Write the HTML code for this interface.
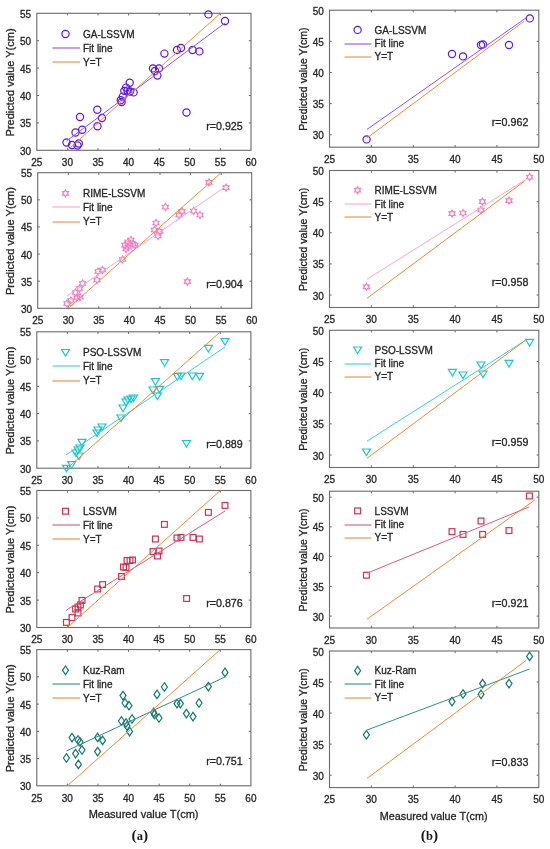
<!DOCTYPE html>
<html><head><meta charset="utf-8"><title>Predicted vs measured</title>
<style>
html,body{margin:0;padding:0;background:#fff;}
svg{display:block;}
.tk{font-family:'Liberation Sans', Arial, Helvetica, sans-serif;font-size:10px;fill:#262626;stroke:#262626;stroke-width:0.3px;}
.lg{font-family:'Liberation Sans', Arial, Helvetica, sans-serif;font-size:10px;fill:#262626;stroke:#262626;stroke-width:0.3px;}
.rt{font-family:'Liberation Sans', Arial, Helvetica, sans-serif;font-size:10.7px;fill:#262626;stroke:#262626;stroke-width:0.3px;}
.lb{font-family:'Liberation Sans', Arial, Helvetica, sans-serif;font-size:11px;fill:#262626;stroke:#262626;stroke-width:0.3px;}
.cap{font-family:'Liberation Serif','Times New Roman',serif;font-weight:bold;font-size:12.5px;fill:#1a1a1a;}
</style></head>
<body>
<svg width="550" height="849" viewBox="0 0 550 849">
<rect width="550" height="849" fill="#fff"/>
<clipPath id="cL0"><rect x="36.8" y="13.3" width="214.20" height="137.00"/></clipPath>
<rect x="36.8" y="13.3" width="214.20" height="137.00" fill="none" stroke="#6b6b6b" stroke-width="1.1"/>
<path d="M67.40 150.3v-2.2M67.40 13.3v2.2M98.00 150.3v-2.2M98.00 13.3v2.2M128.60 150.3v-2.2M128.60 13.3v2.2M159.20 150.3v-2.2M159.20 13.3v2.2M189.80 150.3v-2.2M189.80 13.3v2.2M220.40 150.3v-2.2M220.40 13.3v2.2M36.8 122.90h2.2M251.0 122.90h-2.2M36.8 95.50h2.2M251.0 95.50h-2.2M36.8 68.10h2.2M251.0 68.10h-2.2M36.8 40.70h2.2M251.0 40.70h-2.2" stroke="#6b6b6b" stroke-width="1" fill="none"/>
<circle cx="66.50" cy="142.50" r="3.60" fill="none" stroke="#5c16e6" stroke-width="1.2"/>
<circle cx="72.00" cy="145.00" r="3.60" fill="none" stroke="#5c16e6" stroke-width="1.2"/>
<circle cx="77.50" cy="145.50" r="3.60" fill="none" stroke="#5c16e6" stroke-width="1.2"/>
<circle cx="78.80" cy="143.50" r="3.60" fill="none" stroke="#5c16e6" stroke-width="1.2"/>
<circle cx="75.50" cy="132.50" r="3.60" fill="none" stroke="#5c16e6" stroke-width="1.2"/>
<circle cx="82.20" cy="129.70" r="3.60" fill="none" stroke="#5c16e6" stroke-width="1.2"/>
<circle cx="80.00" cy="117.00" r="3.60" fill="none" stroke="#5c16e6" stroke-width="1.2"/>
<circle cx="97.30" cy="109.70" r="3.60" fill="none" stroke="#5c16e6" stroke-width="1.2"/>
<circle cx="97.50" cy="126.20" r="3.60" fill="none" stroke="#5c16e6" stroke-width="1.2"/>
<circle cx="102.00" cy="118.00" r="3.60" fill="none" stroke="#5c16e6" stroke-width="1.2"/>
<circle cx="120.70" cy="100.20" r="3.60" fill="none" stroke="#5c16e6" stroke-width="1.2"/>
<circle cx="121.60" cy="102.00" r="3.60" fill="none" stroke="#5c16e6" stroke-width="1.2"/>
<circle cx="122.80" cy="96.60" r="3.60" fill="none" stroke="#5c16e6" stroke-width="1.2"/>
<circle cx="124.30" cy="90.90" r="3.60" fill="none" stroke="#5c16e6" stroke-width="1.2"/>
<circle cx="126.10" cy="87.60" r="3.60" fill="none" stroke="#5c16e6" stroke-width="1.2"/>
<circle cx="127.60" cy="90.60" r="3.60" fill="none" stroke="#5c16e6" stroke-width="1.2"/>
<circle cx="129.70" cy="82.80" r="3.60" fill="none" stroke="#5c16e6" stroke-width="1.2"/>
<circle cx="130.00" cy="91.50" r="3.60" fill="none" stroke="#5c16e6" stroke-width="1.2"/>
<circle cx="133.60" cy="92.40" r="3.60" fill="none" stroke="#5c16e6" stroke-width="1.2"/>
<circle cx="153.00" cy="68.40" r="3.60" fill="none" stroke="#5c16e6" stroke-width="1.2"/>
<circle cx="159.00" cy="68.40" r="3.60" fill="none" stroke="#5c16e6" stroke-width="1.2"/>
<circle cx="155.00" cy="71.00" r="3.60" fill="none" stroke="#5c16e6" stroke-width="1.2"/>
<circle cx="157.40" cy="75.60" r="3.60" fill="none" stroke="#5c16e6" stroke-width="1.2"/>
<circle cx="164.40" cy="53.60" r="3.60" fill="none" stroke="#5c16e6" stroke-width="1.2"/>
<circle cx="177.00" cy="50.00" r="3.60" fill="none" stroke="#5c16e6" stroke-width="1.2"/>
<circle cx="181.00" cy="48.00" r="3.60" fill="none" stroke="#5c16e6" stroke-width="1.2"/>
<circle cx="192.60" cy="50.00" r="3.60" fill="none" stroke="#5c16e6" stroke-width="1.2"/>
<circle cx="199.40" cy="51.40" r="3.60" fill="none" stroke="#5c16e6" stroke-width="1.2"/>
<circle cx="208.40" cy="14.40" r="3.60" fill="none" stroke="#5c16e6" stroke-width="1.2"/>
<circle cx="225.00" cy="21.00" r="3.60" fill="none" stroke="#5c16e6" stroke-width="1.2"/>
<circle cx="186.50" cy="112.50" r="3.60" fill="none" stroke="#5c16e6" stroke-width="1.2"/>
<g clip-path="url(#cL0)">
<line x1="66.5" y1="141.0" x2="225" y2="23.0" stroke="#8a55f2" stroke-width="1"/>
<line x1="66.42" y1="151.18" x2="225.42" y2="8.81" stroke="#ee8a3c" stroke-width="1"/>
</g>
<text x="36.80" y="166.10" text-anchor="middle" class="tk">25</text>
<text x="67.40" y="166.10" text-anchor="middle" class="tk">30</text>
<text x="98.00" y="166.10" text-anchor="middle" class="tk">35</text>
<text x="128.60" y="166.10" text-anchor="middle" class="tk">40</text>
<text x="159.20" y="166.10" text-anchor="middle" class="tk">45</text>
<text x="189.80" y="166.10" text-anchor="middle" class="tk">50</text>
<text x="220.40" y="166.10" text-anchor="middle" class="tk">55</text>
<text x="251.00" y="166.10" text-anchor="middle" class="tk">60</text>
<text x="31.20" y="154.80" text-anchor="end" class="tk">30</text>
<text x="31.20" y="127.40" text-anchor="end" class="tk">35</text>
<text x="31.20" y="100.00" text-anchor="end" class="tk">40</text>
<text x="31.20" y="72.60" text-anchor="end" class="tk">45</text>
<text x="31.20" y="45.20" text-anchor="end" class="tk">50</text>
<text x="31.20" y="17.80" text-anchor="end" class="tk">55</text>
<text transform="translate(13.9,82.40) rotate(-90)" text-anchor="middle" class="lb">Predicted value Y(cm)</text>
<circle cx="65.50" cy="34.00" r="3.60" fill="none" stroke="#5c16e6" stroke-width="1.2"/>
<text x="83" y="37.60" class="lg">GA-LSSVM</text>
<line x1="52.4" y1="48" x2="80" y2="48" stroke="#8a55f2" stroke-width="1.1"/>
<text x="83" y="51.60" class="lg">Fit line</text>
<line x1="52.4" y1="62" x2="80" y2="62" stroke="#ee8a3c" stroke-width="1.1"/>
<text x="83" y="65.70" class="lg">Y=T</text>
<text x="206.2" y="129.60" class="rt">r=0.925</text>
<clipPath id="cR0"><rect x="329.5" y="10.2" width="209.30" height="137.00"/></clipPath>
<rect x="329.5" y="10.2" width="209.30" height="137.00" fill="none" stroke="#6b6b6b" stroke-width="1.1"/>
<path d="M371.36 147.2v-2.2M371.36 10.2v2.2M413.22 147.2v-2.2M413.22 10.2v2.2M455.08 147.2v-2.2M455.08 10.2v2.2M496.94 147.2v-2.2M496.94 10.2v2.2M329.5 134.75h2.2M538.8 134.75h-2.2M329.5 103.61h2.2M538.8 103.61h-2.2M329.5 72.47h2.2M538.8 72.47h-2.2M329.5 41.34h2.2M538.8 41.34h-2.2" stroke="#6b6b6b" stroke-width="1" fill="none"/>
<circle cx="366.60" cy="139.40" r="3.60" fill="none" stroke="#5c16e6" stroke-width="1.2"/>
<circle cx="452.00" cy="54.00" r="3.60" fill="none" stroke="#5c16e6" stroke-width="1.2"/>
<circle cx="463.00" cy="56.40" r="3.60" fill="none" stroke="#5c16e6" stroke-width="1.2"/>
<circle cx="481.00" cy="45.00" r="3.60" fill="none" stroke="#5c16e6" stroke-width="1.2"/>
<circle cx="483.00" cy="44.40" r="3.60" fill="none" stroke="#5c16e6" stroke-width="1.2"/>
<circle cx="509.00" cy="45.00" r="3.60" fill="none" stroke="#5c16e6" stroke-width="1.2"/>
<circle cx="529.80" cy="18.40" r="3.60" fill="none" stroke="#5c16e6" stroke-width="1.2"/>
<g clip-path="url(#cR0)">
<line x1="367" y1="129.4" x2="526" y2="17.9" stroke="#8a55f2" stroke-width="1"/>
<line x1="367.01" y1="137.98" x2="524.23" y2="21.04" stroke="#ee8a3c" stroke-width="1"/>
</g>
<text x="329.50" y="163.00" text-anchor="middle" class="tk">25</text>
<text x="371.36" y="163.00" text-anchor="middle" class="tk">30</text>
<text x="413.22" y="163.00" text-anchor="middle" class="tk">35</text>
<text x="455.08" y="163.00" text-anchor="middle" class="tk">40</text>
<text x="496.94" y="163.00" text-anchor="middle" class="tk">45</text>
<text x="538.80" y="163.00" text-anchor="middle" class="tk">50</text>
<text x="323.90" y="139.25" text-anchor="end" class="tk">30</text>
<text x="323.90" y="108.11" text-anchor="end" class="tk">35</text>
<text x="323.90" y="76.97" text-anchor="end" class="tk">40</text>
<text x="323.90" y="45.84" text-anchor="end" class="tk">45</text>
<text x="323.90" y="14.70" text-anchor="end" class="tk">50</text>
<text transform="translate(306.8,79.10) rotate(-90)" text-anchor="middle" class="lb" style="font-size:10.5px">Predicted value Y(cm)</text>
<circle cx="357.60" cy="29.90" r="3.60" fill="none" stroke="#5c16e6" stroke-width="1.2"/>
<text x="374.6" y="33.50" class="lg">GA-LSSVM</text>
<line x1="344.6" y1="44" x2="371.4" y2="44" stroke="#8a55f2" stroke-width="1.1"/>
<text x="374.6" y="47.30" class="lg">Fit line</text>
<line x1="344.6" y1="57" x2="371.4" y2="57" stroke="#ee8a3c" stroke-width="1.1"/>
<text x="374.6" y="60.30" class="lg">Y=T</text>
<text x="491.8" y="125.70" class="rt">r=0.962</text>
<clipPath id="cL1"><rect x="37.7" y="172.7" width="214.00" height="135.60"/></clipPath>
<rect x="37.7" y="172.7" width="214.00" height="135.60" fill="none" stroke="#6b6b6b" stroke-width="1.1"/>
<path d="M68.27 308.3v-2.2M68.27 172.7v2.2M98.84 308.3v-2.2M98.84 172.7v2.2M129.41 308.3v-2.2M129.41 172.7v2.2M159.99 308.3v-2.2M159.99 172.7v2.2M190.56 308.3v-2.2M190.56 172.7v2.2M221.13 308.3v-2.2M221.13 172.7v2.2M37.7 281.18h2.2M251.7 281.18h-2.2M37.7 254.06h2.2M251.7 254.06h-2.2M37.7 226.94h2.2M251.7 226.94h-2.2M37.7 199.82h2.2M251.7 199.82h-2.2" stroke="#6b6b6b" stroke-width="1" fill="none"/>
<polygon points="67.00,300.00 68.01,301.75 70.03,301.75 69.02,303.50 70.03,305.25 68.01,305.25 67.00,307.00 65.99,305.25 63.97,305.25 64.98,303.50 63.97,301.75 65.99,301.75" fill="none" stroke="#f27fc0" stroke-width="1.2"/>
<polygon points="71.00,297.00 72.01,298.75 74.03,298.75 73.02,300.50 74.03,302.25 72.01,302.25 71.00,304.00 69.99,302.25 67.97,302.25 68.98,300.50 67.97,298.75 69.99,298.75" fill="none" stroke="#f27fc0" stroke-width="1.2"/>
<polygon points="77.00,294.50 78.01,296.25 80.03,296.25 79.02,298.00 80.03,299.75 78.01,299.75 77.00,301.50 75.99,299.75 73.97,299.75 74.98,298.00 73.97,296.25 75.99,296.25" fill="none" stroke="#f27fc0" stroke-width="1.2"/>
<polygon points="75.50,289.00 76.51,290.75 78.53,290.75 77.52,292.50 78.53,294.25 76.51,294.25 75.50,296.00 74.49,294.25 72.47,294.25 73.48,292.50 72.47,290.75 74.49,290.75" fill="none" stroke="#f27fc0" stroke-width="1.2"/>
<polygon points="79.50,285.00 80.51,286.75 82.53,286.75 81.52,288.50 82.53,290.25 80.51,290.25 79.50,292.00 78.49,290.25 76.47,290.25 77.48,288.50 76.47,286.75 78.49,286.75" fill="none" stroke="#f27fc0" stroke-width="1.2"/>
<polygon points="82.50,280.00 83.51,281.75 85.53,281.75 84.52,283.50 85.53,285.25 83.51,285.25 82.50,287.00 81.49,285.25 79.47,285.25 80.48,283.50 79.47,281.75 81.49,281.75" fill="none" stroke="#f27fc0" stroke-width="1.2"/>
<polygon points="80.00,293.50 81.01,295.25 83.03,295.25 82.02,297.00 83.03,298.75 81.01,298.75 80.00,300.50 78.99,298.75 76.97,298.75 77.98,297.00 76.97,295.25 78.99,295.25" fill="none" stroke="#f27fc0" stroke-width="1.2"/>
<polygon points="97.00,276.50 98.01,278.25 100.03,278.25 99.02,280.00 100.03,281.75 98.01,281.75 97.00,283.50 95.99,281.75 93.97,281.75 94.98,280.00 93.97,278.25 95.99,278.25" fill="none" stroke="#f27fc0" stroke-width="1.2"/>
<polygon points="98.00,268.00 99.01,269.75 101.03,269.75 100.02,271.50 101.03,273.25 99.01,273.25 98.00,275.00 96.99,273.25 94.97,273.25 95.98,271.50 94.97,269.75 96.99,269.75" fill="none" stroke="#f27fc0" stroke-width="1.2"/>
<polygon points="102.50,266.50 103.51,268.25 105.53,268.25 104.52,270.00 105.53,271.75 103.51,271.75 102.50,273.50 101.49,271.75 99.47,271.75 100.48,270.00 99.47,268.25 101.49,268.25" fill="none" stroke="#f27fc0" stroke-width="1.2"/>
<polygon points="122.50,256.00 123.51,257.75 125.53,257.75 124.52,259.50 125.53,261.25 123.51,261.25 122.50,263.00 121.49,261.25 119.47,261.25 120.48,259.50 119.47,257.75 121.49,257.75" fill="none" stroke="#f27fc0" stroke-width="1.2"/>
<polygon points="125.00,241.50 126.01,243.25 128.03,243.25 127.02,245.00 128.03,246.75 126.01,246.75 125.00,248.50 123.99,246.75 121.97,246.75 122.98,245.00 121.97,243.25 123.99,243.25" fill="none" stroke="#f27fc0" stroke-width="1.2"/>
<polygon points="128.00,238.50 129.01,240.25 131.03,240.25 130.02,242.00 131.03,243.75 129.01,243.75 128.00,245.50 126.99,243.75 124.97,243.75 125.98,242.00 124.97,240.25 126.99,240.25" fill="none" stroke="#f27fc0" stroke-width="1.2"/>
<polygon points="131.00,236.50 132.01,238.25 134.03,238.25 133.02,240.00 134.03,241.75 132.01,241.75 131.00,243.50 129.99,241.75 127.97,241.75 128.98,240.00 127.97,238.25 129.99,238.25" fill="none" stroke="#f27fc0" stroke-width="1.2"/>
<polygon points="133.00,240.50 134.01,242.25 136.03,242.25 135.02,244.00 136.03,245.75 134.01,245.75 133.00,247.50 131.99,245.75 129.97,245.75 130.98,244.00 129.97,242.25 131.99,242.25" fill="none" stroke="#f27fc0" stroke-width="1.2"/>
<polygon points="128.00,243.50 129.01,245.25 131.03,245.25 130.02,247.00 131.03,248.75 129.01,248.75 128.00,250.50 126.99,248.75 124.97,248.75 125.98,247.00 124.97,245.25 126.99,245.25" fill="none" stroke="#f27fc0" stroke-width="1.2"/>
<polygon points="135.00,241.50 136.01,243.25 138.03,243.25 137.02,245.00 138.03,246.75 136.01,246.75 135.00,248.50 133.99,246.75 131.97,246.75 132.98,245.00 131.97,243.25 133.99,243.25" fill="none" stroke="#f27fc0" stroke-width="1.2"/>
<polygon points="126.00,245.50 127.01,247.25 129.03,247.25 128.02,249.00 129.03,250.75 127.01,250.75 126.00,252.50 124.99,250.75 122.97,250.75 123.98,249.00 122.97,247.25 124.99,247.25" fill="none" stroke="#f27fc0" stroke-width="1.2"/>
<polygon points="154.40,226.50 155.41,228.25 157.43,228.25 156.42,230.00 157.43,231.75 155.41,231.75 154.40,233.50 153.39,231.75 151.37,231.75 152.38,230.00 151.37,228.25 153.39,228.25" fill="none" stroke="#f27fc0" stroke-width="1.2"/>
<polygon points="159.60,227.90 160.61,229.65 162.63,229.65 161.62,231.40 162.63,233.15 160.61,233.15 159.60,234.90 158.59,233.15 156.57,233.15 157.58,231.40 156.57,229.65 158.59,229.65" fill="none" stroke="#f27fc0" stroke-width="1.2"/>
<polygon points="158.00,232.50 159.01,234.25 161.03,234.25 160.02,236.00 161.03,237.75 159.01,237.75 158.00,239.50 156.99,237.75 154.97,237.75 155.98,236.00 154.97,234.25 156.99,234.25" fill="none" stroke="#f27fc0" stroke-width="1.2"/>
<polygon points="156.00,219.50 157.01,221.25 159.03,221.25 158.02,223.00 159.03,224.75 157.01,224.75 156.00,226.50 154.99,224.75 152.97,224.75 153.98,223.00 152.97,221.25 154.99,221.25" fill="none" stroke="#f27fc0" stroke-width="1.2"/>
<polygon points="165.40,203.50 166.41,205.25 168.43,205.25 167.42,207.00 168.43,208.75 166.41,208.75 165.40,210.50 164.39,208.75 162.37,208.75 163.38,207.00 162.37,205.25 164.39,205.25" fill="none" stroke="#f27fc0" stroke-width="1.2"/>
<polygon points="179.00,211.50 180.01,213.25 182.03,213.25 181.02,215.00 182.03,216.75 180.01,216.75 179.00,218.50 177.99,216.75 175.97,216.75 176.98,215.00 175.97,213.25 177.99,213.25" fill="none" stroke="#f27fc0" stroke-width="1.2"/>
<polygon points="182.00,207.90 183.01,209.65 185.03,209.65 184.02,211.40 185.03,213.15 183.01,213.15 182.00,214.90 180.99,213.15 178.97,213.15 179.98,211.40 178.97,209.65 180.99,209.65" fill="none" stroke="#f27fc0" stroke-width="1.2"/>
<polygon points="193.60,207.50 194.61,209.25 196.63,209.25 195.62,211.00 196.63,212.75 194.61,212.75 193.60,214.50 192.59,212.75 190.57,212.75 191.58,211.00 190.57,209.25 192.59,209.25" fill="none" stroke="#f27fc0" stroke-width="1.2"/>
<polygon points="200.00,211.50 201.01,213.25 203.03,213.25 202.02,215.00 203.03,216.75 201.01,216.75 200.00,218.50 198.99,216.75 196.97,216.75 197.98,215.00 196.97,213.25 198.99,213.25" fill="none" stroke="#f27fc0" stroke-width="1.2"/>
<polygon points="209.00,178.90 210.01,180.65 212.03,180.65 211.02,182.40 212.03,184.15 210.01,184.15 209.00,185.90 207.99,184.15 205.97,184.15 206.98,182.40 205.97,180.65 207.99,180.65" fill="none" stroke="#f27fc0" stroke-width="1.2"/>
<polygon points="226.00,184.10 227.01,185.85 229.03,185.85 228.02,187.60 229.03,189.35 227.01,189.35 226.00,191.10 224.99,189.35 222.97,189.35 223.98,187.60 222.97,185.85 224.99,185.85" fill="none" stroke="#f27fc0" stroke-width="1.2"/>
<polygon points="187.40,278.10 188.41,279.85 190.43,279.85 189.42,281.60 190.43,283.35 188.41,283.35 187.40,285.10 186.39,283.35 184.37,283.35 185.38,281.60 184.37,279.85 186.39,279.85" fill="none" stroke="#f27fc0" stroke-width="1.2"/>
<g clip-path="url(#cL1)">
<line x1="67" y1="296" x2="224" y2="187.6" stroke="#f6a6d2" stroke-width="1"/>
<line x1="67.29" y1="309.17" x2="226.14" y2="168.25" stroke="#ee8a3c" stroke-width="1"/>
</g>
<text x="37.70" y="324.10" text-anchor="middle" class="tk">25</text>
<text x="68.27" y="324.10" text-anchor="middle" class="tk">30</text>
<text x="98.84" y="324.10" text-anchor="middle" class="tk">35</text>
<text x="129.41" y="324.10" text-anchor="middle" class="tk">40</text>
<text x="159.99" y="324.10" text-anchor="middle" class="tk">45</text>
<text x="190.56" y="324.10" text-anchor="middle" class="tk">50</text>
<text x="221.13" y="324.10" text-anchor="middle" class="tk">55</text>
<text x="251.70" y="324.10" text-anchor="middle" class="tk">60</text>
<text x="32.10" y="312.80" text-anchor="end" class="tk">30</text>
<text x="32.10" y="285.68" text-anchor="end" class="tk">35</text>
<text x="32.10" y="258.56" text-anchor="end" class="tk">40</text>
<text x="32.10" y="231.44" text-anchor="end" class="tk">45</text>
<text x="32.10" y="204.32" text-anchor="end" class="tk">50</text>
<text x="32.10" y="177.20" text-anchor="end" class="tk">55</text>
<text transform="translate(13.9,241.10) rotate(-90)" text-anchor="middle" class="lb">Predicted value Y(cm)</text>
<polygon points="65.50,189.90 66.51,191.65 68.53,191.65 67.52,193.40 68.53,195.15 66.51,195.15 65.50,196.90 64.49,195.15 62.47,195.15 63.48,193.40 62.47,191.65 64.49,191.65" fill="none" stroke="#f27fc0" stroke-width="1.2"/>
<text x="83" y="197.00" class="lg">RIME-LSSVM</text>
<line x1="52.4" y1="207" x2="80" y2="207" stroke="#f6a6d2" stroke-width="1.1"/>
<text x="83" y="211.00" class="lg">Fit line</text>
<line x1="52.4" y1="222" x2="80" y2="222" stroke="#ee8a3c" stroke-width="1.1"/>
<text x="83" y="225.10" class="lg">Y=T</text>
<text x="206.2" y="287.60" class="rt">r=0.904</text>
<clipPath id="cR1"><rect x="329.5" y="170.5" width="209.30" height="137.00"/></clipPath>
<rect x="329.5" y="170.5" width="209.30" height="137.00" fill="none" stroke="#6b6b6b" stroke-width="1.1"/>
<path d="M371.36 307.5v-2.2M371.36 170.5v2.2M413.22 307.5v-2.2M413.22 170.5v2.2M455.08 307.5v-2.2M455.08 170.5v2.2M496.94 307.5v-2.2M496.94 170.5v2.2M329.5 295.05h2.2M538.8 295.05h-2.2M329.5 263.91h2.2M538.8 263.91h-2.2M329.5 232.77h2.2M538.8 232.77h-2.2M329.5 201.64h2.2M538.8 201.64h-2.2" stroke="#6b6b6b" stroke-width="1" fill="none"/>
<polygon points="366.40,283.30 367.41,285.05 369.43,285.05 368.42,286.80 369.43,288.55 367.41,288.55 366.40,290.30 365.39,288.55 363.37,288.55 364.38,286.80 363.37,285.05 365.39,285.05" fill="none" stroke="#f27fc0" stroke-width="1.2"/>
<polygon points="452.00,210.10 453.01,211.85 455.03,211.85 454.02,213.60 455.03,215.35 453.01,215.35 452.00,217.10 450.99,215.35 448.97,215.35 449.98,213.60 448.97,211.85 450.99,211.85" fill="none" stroke="#f27fc0" stroke-width="1.2"/>
<polygon points="463.00,209.50 464.01,211.25 466.03,211.25 465.02,213.00 466.03,214.75 464.01,214.75 463.00,216.50 461.99,214.75 459.97,214.75 460.98,213.00 459.97,211.25 461.99,211.25" fill="none" stroke="#f27fc0" stroke-width="1.2"/>
<polygon points="481.00,206.50 482.01,208.25 484.03,208.25 483.02,210.00 484.03,211.75 482.01,211.75 481.00,213.50 479.99,211.75 477.97,211.75 478.98,210.00 477.97,208.25 479.99,208.25" fill="none" stroke="#f27fc0" stroke-width="1.2"/>
<polygon points="482.40,198.10 483.41,199.85 485.43,199.85 484.42,201.60 485.43,203.35 483.41,203.35 482.40,205.10 481.39,203.35 479.37,203.35 480.38,201.60 479.37,199.85 481.39,199.85" fill="none" stroke="#f27fc0" stroke-width="1.2"/>
<polygon points="509.00,197.10 510.01,198.85 512.03,198.85 511.02,200.60 512.03,202.35 510.01,202.35 509.00,204.10 507.99,202.35 505.97,202.35 506.98,200.60 505.97,198.85 507.99,198.85" fill="none" stroke="#f27fc0" stroke-width="1.2"/>
<polygon points="529.60,173.50 530.61,175.25 532.63,175.25 531.62,177.00 532.63,178.75 530.61,178.75 529.60,180.50 528.59,178.75 526.57,178.75 527.58,177.00 526.57,175.25 528.59,175.25" fill="none" stroke="#f27fc0" stroke-width="1.2"/>
<g clip-path="url(#cR1)">
<line x1="367" y1="279.2" x2="525" y2="180" stroke="#f6a6d2" stroke-width="1"/>
<line x1="367.01" y1="298.28" x2="524.23" y2="181.34" stroke="#ee8a3c" stroke-width="1"/>
</g>
<text x="329.50" y="323.30" text-anchor="middle" class="tk">25</text>
<text x="371.36" y="323.30" text-anchor="middle" class="tk">30</text>
<text x="413.22" y="323.30" text-anchor="middle" class="tk">35</text>
<text x="455.08" y="323.30" text-anchor="middle" class="tk">40</text>
<text x="496.94" y="323.30" text-anchor="middle" class="tk">45</text>
<text x="538.80" y="323.30" text-anchor="middle" class="tk">50</text>
<text x="323.90" y="299.55" text-anchor="end" class="tk">30</text>
<text x="323.90" y="268.41" text-anchor="end" class="tk">35</text>
<text x="323.90" y="237.27" text-anchor="end" class="tk">40</text>
<text x="323.90" y="206.14" text-anchor="end" class="tk">45</text>
<text x="323.90" y="175.00" text-anchor="end" class="tk">50</text>
<text transform="translate(306.8,239.40) rotate(-90)" text-anchor="middle" class="lb" style="font-size:10.5px">Predicted value Y(cm)</text>
<polygon points="357.60,186.70 358.61,188.45 360.63,188.45 359.62,190.20 360.63,191.95 358.61,191.95 357.60,193.70 356.59,191.95 354.57,191.95 355.58,190.20 354.57,188.45 356.59,188.45" fill="none" stroke="#f27fc0" stroke-width="1.2"/>
<text x="374.6" y="193.80" class="lg">RIME-LSSVM</text>
<line x1="344.6" y1="204" x2="371.4" y2="204" stroke="#f6a6d2" stroke-width="1.1"/>
<text x="374.6" y="207.60" class="lg">Fit line</text>
<line x1="344.6" y1="217" x2="371.4" y2="217" stroke="#ee8a3c" stroke-width="1.1"/>
<text x="374.6" y="220.60" class="lg">Y=T</text>
<text x="491.8" y="286.00" class="rt">r=0.958</text>
<clipPath id="cL2"><rect x="36.8" y="331.8" width="214.10" height="136.40"/></clipPath>
<rect x="36.8" y="331.8" width="214.10" height="136.40" fill="none" stroke="#6b6b6b" stroke-width="1.1"/>
<path d="M67.39 468.2v-2.2M67.39 331.8v2.2M97.97 468.2v-2.2M97.97 331.8v2.2M128.56 468.2v-2.2M128.56 331.8v2.2M159.14 468.2v-2.2M159.14 331.8v2.2M189.73 468.2v-2.2M189.73 331.8v2.2M220.31 468.2v-2.2M220.31 331.8v2.2M36.8 440.92h2.2M250.9 440.92h-2.2M36.8 413.64h2.2M250.9 413.64h-2.2M36.8 386.36h2.2M250.9 386.36h-2.2M36.8 359.08h2.2M250.9 359.08h-2.2" stroke="#6b6b6b" stroke-width="1" fill="none"/>
<path d="M62.50 465.30L70.50 465.30L66.50 471.90Z" fill="none" stroke="#1ec8c8" stroke-width="1.2" stroke-linejoin="miter"/>
<path d="M67.70 461.60L75.70 461.60L71.70 468.20Z" fill="none" stroke="#1ec8c8" stroke-width="1.2" stroke-linejoin="miter"/>
<path d="M72.00 450.00L80.00 450.00L76.00 456.60Z" fill="none" stroke="#1ec8c8" stroke-width="1.2" stroke-linejoin="miter"/>
<path d="M74.00 447.00L82.00 447.00L78.00 453.60Z" fill="none" stroke="#1ec8c8" stroke-width="1.2" stroke-linejoin="miter"/>
<path d="M76.00 445.00L84.00 445.00L80.00 451.60Z" fill="none" stroke="#1ec8c8" stroke-width="1.2" stroke-linejoin="miter"/>
<path d="M78.00 439.40L86.00 439.40L82.00 446.00Z" fill="none" stroke="#1ec8c8" stroke-width="1.2" stroke-linejoin="miter"/>
<path d="M75.00 453.00L83.00 453.00L79.00 459.60Z" fill="none" stroke="#1ec8c8" stroke-width="1.2" stroke-linejoin="miter"/>
<path d="M93.00 430.00L101.00 430.00L97.00 436.60Z" fill="none" stroke="#1ec8c8" stroke-width="1.2" stroke-linejoin="miter"/>
<path d="M94.00 427.00L102.00 427.00L98.00 433.60Z" fill="none" stroke="#1ec8c8" stroke-width="1.2" stroke-linejoin="miter"/>
<path d="M98.00 424.00L106.00 424.00L102.00 430.60Z" fill="none" stroke="#1ec8c8" stroke-width="1.2" stroke-linejoin="miter"/>
<path d="M117.00 415.00L125.00 415.00L121.00 421.60Z" fill="none" stroke="#1ec8c8" stroke-width="1.2" stroke-linejoin="miter"/>
<path d="M119.00 405.00L127.00 405.00L123.00 411.60Z" fill="none" stroke="#1ec8c8" stroke-width="1.2" stroke-linejoin="miter"/>
<path d="M122.00 399.00L130.00 399.00L126.00 405.60Z" fill="none" stroke="#1ec8c8" stroke-width="1.2" stroke-linejoin="miter"/>
<path d="M124.00 397.00L132.00 397.00L128.00 403.60Z" fill="none" stroke="#1ec8c8" stroke-width="1.2" stroke-linejoin="miter"/>
<path d="M127.00 396.00L135.00 396.00L131.00 402.60Z" fill="none" stroke="#1ec8c8" stroke-width="1.2" stroke-linejoin="miter"/>
<path d="M129.50 395.00L137.50 395.00L133.50 401.60Z" fill="none" stroke="#1ec8c8" stroke-width="1.2" stroke-linejoin="miter"/>
<path d="M149.00 387.00L157.00 387.00L153.00 393.60Z" fill="none" stroke="#1ec8c8" stroke-width="1.2" stroke-linejoin="miter"/>
<path d="M153.50 393.00L161.50 393.00L157.50 399.60Z" fill="none" stroke="#1ec8c8" stroke-width="1.2" stroke-linejoin="miter"/>
<path d="M155.60 386.40L163.60 386.40L159.60 393.00Z" fill="none" stroke="#1ec8c8" stroke-width="1.2" stroke-linejoin="miter"/>
<path d="M151.40 378.60L159.40 378.60L155.40 385.20Z" fill="none" stroke="#1ec8c8" stroke-width="1.2" stroke-linejoin="miter"/>
<path d="M160.60 359.60L168.60 359.60L164.60 366.20Z" fill="none" stroke="#1ec8c8" stroke-width="1.2" stroke-linejoin="miter"/>
<path d="M173.40 373.60L181.40 373.60L177.40 380.20Z" fill="none" stroke="#1ec8c8" stroke-width="1.2" stroke-linejoin="miter"/>
<path d="M177.00 373.00L185.00 373.00L181.00 379.60Z" fill="none" stroke="#1ec8c8" stroke-width="1.2" stroke-linejoin="miter"/>
<path d="M188.40 373.00L196.40 373.00L192.40 379.60Z" fill="none" stroke="#1ec8c8" stroke-width="1.2" stroke-linejoin="miter"/>
<path d="M195.60 373.40L203.60 373.40L199.60 380.00Z" fill="none" stroke="#1ec8c8" stroke-width="1.2" stroke-linejoin="miter"/>
<path d="M204.40 345.40L212.40 345.40L208.40 352.00Z" fill="none" stroke="#1ec8c8" stroke-width="1.2" stroke-linejoin="miter"/>
<path d="M221.00 338.60L229.00 338.60L225.00 345.20Z" fill="none" stroke="#1ec8c8" stroke-width="1.2" stroke-linejoin="miter"/>
<path d="M182.50 440.50L190.50 440.50L186.50 447.10Z" fill="none" stroke="#1ec8c8" stroke-width="1.2" stroke-linejoin="miter"/>
<g clip-path="url(#cL2)">
<line x1="66" y1="455" x2="225" y2="347" stroke="#3ccfd2" stroke-width="1"/>
<line x1="66.41" y1="469.07" x2="225.33" y2="327.33" stroke="#ee8a3c" stroke-width="1"/>
</g>
<text x="36.80" y="484.00" text-anchor="middle" class="tk">25</text>
<text x="67.39" y="484.00" text-anchor="middle" class="tk">30</text>
<text x="97.97" y="484.00" text-anchor="middle" class="tk">35</text>
<text x="128.56" y="484.00" text-anchor="middle" class="tk">40</text>
<text x="159.14" y="484.00" text-anchor="middle" class="tk">45</text>
<text x="189.73" y="484.00" text-anchor="middle" class="tk">50</text>
<text x="220.31" y="484.00" text-anchor="middle" class="tk">55</text>
<text x="250.90" y="484.00" text-anchor="middle" class="tk">60</text>
<text x="31.20" y="472.70" text-anchor="end" class="tk">30</text>
<text x="31.20" y="445.42" text-anchor="end" class="tk">35</text>
<text x="31.20" y="418.14" text-anchor="end" class="tk">40</text>
<text x="31.20" y="390.86" text-anchor="end" class="tk">45</text>
<text x="31.20" y="363.58" text-anchor="end" class="tk">50</text>
<text x="31.20" y="336.30" text-anchor="end" class="tk">55</text>
<text transform="translate(13.9,400.60) rotate(-90)" text-anchor="middle" class="lb">Predicted value Y(cm)</text>
<path d="M61.50 349.50L69.50 349.50L65.50 356.10Z" fill="none" stroke="#1ec8c8" stroke-width="1.2" stroke-linejoin="miter"/>
<text x="83" y="356.10" class="lg">PSO-LSSVM</text>
<line x1="52.4" y1="366" x2="80" y2="366" stroke="#3ccfd2" stroke-width="1.1"/>
<text x="83" y="370.10" class="lg">Fit line</text>
<line x1="52.4" y1="381" x2="80" y2="381" stroke="#ee8a3c" stroke-width="1.1"/>
<text x="83" y="384.20" class="lg">Y=T</text>
<text x="206.2" y="447.50" class="rt">r=0.889</text>
<clipPath id="cR2"><rect x="329.5" y="330.3" width="209.30" height="137.20"/></clipPath>
<rect x="329.5" y="330.3" width="209.30" height="137.20" fill="none" stroke="#6b6b6b" stroke-width="1.1"/>
<path d="M371.36 467.5v-2.2M371.36 330.3v2.2M413.22 467.5v-2.2M413.22 330.3v2.2M455.08 467.5v-2.2M455.08 330.3v2.2M496.94 467.5v-2.2M496.94 330.3v2.2M329.5 455.03h2.2M538.8 455.03h-2.2M329.5 423.85h2.2M538.8 423.85h-2.2M329.5 392.66h2.2M538.8 392.66h-2.2M329.5 361.48h2.2M538.8 361.48h-2.2" stroke="#6b6b6b" stroke-width="1" fill="none"/>
<path d="M362.40 449.00L370.40 449.00L366.40 455.60Z" fill="none" stroke="#1ec8c8" stroke-width="1.2" stroke-linejoin="miter"/>
<path d="M448.40 369.40L456.40 369.40L452.40 376.00Z" fill="none" stroke="#1ec8c8" stroke-width="1.2" stroke-linejoin="miter"/>
<path d="M459.00 372.00L467.00 372.00L463.00 378.60Z" fill="none" stroke="#1ec8c8" stroke-width="1.2" stroke-linejoin="miter"/>
<path d="M477.00 362.00L485.00 362.00L481.00 368.60Z" fill="none" stroke="#1ec8c8" stroke-width="1.2" stroke-linejoin="miter"/>
<path d="M479.00 371.00L487.00 371.00L483.00 377.60Z" fill="none" stroke="#1ec8c8" stroke-width="1.2" stroke-linejoin="miter"/>
<path d="M505.00 360.40L513.00 360.40L509.00 367.00Z" fill="none" stroke="#1ec8c8" stroke-width="1.2" stroke-linejoin="miter"/>
<path d="M525.60 339.40L533.60 339.40L529.60 346.00Z" fill="none" stroke="#1ec8c8" stroke-width="1.2" stroke-linejoin="miter"/>
<g clip-path="url(#cR2)">
<line x1="367" y1="441.2" x2="526" y2="340" stroke="#3ccfd2" stroke-width="1"/>
<line x1="367.01" y1="458.27" x2="524.57" y2="340.90" stroke="#ee8a3c" stroke-width="1"/>
</g>
<text x="329.50" y="483.30" text-anchor="middle" class="tk">25</text>
<text x="371.36" y="483.30" text-anchor="middle" class="tk">30</text>
<text x="413.22" y="483.30" text-anchor="middle" class="tk">35</text>
<text x="455.08" y="483.30" text-anchor="middle" class="tk">40</text>
<text x="496.94" y="483.30" text-anchor="middle" class="tk">45</text>
<text x="538.80" y="483.30" text-anchor="middle" class="tk">50</text>
<text x="323.90" y="459.53" text-anchor="end" class="tk">30</text>
<text x="323.90" y="428.35" text-anchor="end" class="tk">35</text>
<text x="323.90" y="397.16" text-anchor="end" class="tk">40</text>
<text x="323.90" y="365.98" text-anchor="end" class="tk">45</text>
<text x="323.90" y="334.80" text-anchor="end" class="tk">50</text>
<text transform="translate(306.8,399.30) rotate(-90)" text-anchor="middle" class="lb" style="font-size:10.5px">Predicted value Y(cm)</text>
<path d="M353.60 347.00L361.60 347.00L357.60 353.60Z" fill="none" stroke="#1ec8c8" stroke-width="1.2" stroke-linejoin="miter"/>
<text x="374.6" y="353.60" class="lg">PSO-LSSVM</text>
<line x1="344.6" y1="364" x2="371.4" y2="364" stroke="#3ccfd2" stroke-width="1.1"/>
<text x="374.6" y="367.40" class="lg">Fit line</text>
<line x1="344.6" y1="377" x2="371.4" y2="377" stroke="#ee8a3c" stroke-width="1.1"/>
<text x="374.6" y="380.40" class="lg">Y=T</text>
<text x="491.8" y="446.00" class="rt">r=0.959</text>
<clipPath id="cL3"><rect x="36.8" y="490.5" width="214.10" height="137.00"/></clipPath>
<rect x="36.8" y="490.5" width="214.10" height="137.00" fill="none" stroke="#6b6b6b" stroke-width="1.1"/>
<path d="M67.39 627.5v-2.2M67.39 490.5v2.2M97.97 627.5v-2.2M97.97 490.5v2.2M128.56 627.5v-2.2M128.56 490.5v2.2M159.14 627.5v-2.2M159.14 490.5v2.2M189.73 627.5v-2.2M189.73 490.5v2.2M220.31 627.5v-2.2M220.31 490.5v2.2M36.8 600.10h2.2M250.9 600.10h-2.2M36.8 572.70h2.2M250.9 572.70h-2.2M36.8 545.30h2.2M250.9 545.30h-2.2M36.8 517.90h2.2M250.9 517.90h-2.2" stroke="#6b6b6b" stroke-width="1" fill="none"/>
<rect x="63.50" y="619.50" width="5.80" height="5.80" fill="none" stroke="#cc3355" stroke-width="1.2"/>
<rect x="69.10" y="614.70" width="5.80" height="5.80" fill="none" stroke="#cc3355" stroke-width="1.2"/>
<rect x="75.10" y="610.10" width="5.80" height="5.80" fill="none" stroke="#cc3355" stroke-width="1.2"/>
<rect x="72.70" y="606.10" width="5.80" height="5.80" fill="none" stroke="#cc3355" stroke-width="1.2"/>
<rect x="75.10" y="604.10" width="5.80" height="5.80" fill="none" stroke="#cc3355" stroke-width="1.2"/>
<rect x="77.50" y="602.10" width="5.80" height="5.80" fill="none" stroke="#cc3355" stroke-width="1.2"/>
<rect x="79.10" y="597.50" width="5.80" height="5.80" fill="none" stroke="#cc3355" stroke-width="1.2"/>
<rect x="94.70" y="586.10" width="5.80" height="5.80" fill="none" stroke="#cc3355" stroke-width="1.2"/>
<rect x="99.70" y="581.70" width="5.80" height="5.80" fill="none" stroke="#cc3355" stroke-width="1.2"/>
<rect x="118.60" y="573.60" width="5.80" height="5.80" fill="none" stroke="#cc3355" stroke-width="1.2"/>
<rect x="120.60" y="564.10" width="5.80" height="5.80" fill="none" stroke="#cc3355" stroke-width="1.2"/>
<rect x="123.10" y="564.60" width="5.80" height="5.80" fill="none" stroke="#cc3355" stroke-width="1.2"/>
<rect x="124.10" y="557.60" width="5.80" height="5.80" fill="none" stroke="#cc3355" stroke-width="1.2"/>
<rect x="127.10" y="557.60" width="5.80" height="5.80" fill="none" stroke="#cc3355" stroke-width="1.2"/>
<rect x="129.60" y="557.10" width="5.80" height="5.80" fill="none" stroke="#cc3355" stroke-width="1.2"/>
<rect x="150.10" y="548.60" width="5.80" height="5.80" fill="none" stroke="#cc3355" stroke-width="1.2"/>
<rect x="154.60" y="553.10" width="5.80" height="5.80" fill="none" stroke="#cc3355" stroke-width="1.2"/>
<rect x="156.10" y="548.10" width="5.80" height="5.80" fill="none" stroke="#cc3355" stroke-width="1.2"/>
<rect x="152.50" y="536.10" width="5.80" height="5.80" fill="none" stroke="#cc3355" stroke-width="1.2"/>
<rect x="161.50" y="521.50" width="5.80" height="5.80" fill="none" stroke="#cc3355" stroke-width="1.2"/>
<rect x="174.10" y="535.10" width="5.80" height="5.80" fill="none" stroke="#cc3355" stroke-width="1.2"/>
<rect x="178.10" y="534.50" width="5.80" height="5.80" fill="none" stroke="#cc3355" stroke-width="1.2"/>
<rect x="190.10" y="534.50" width="5.80" height="5.80" fill="none" stroke="#cc3355" stroke-width="1.2"/>
<rect x="196.50" y="536.10" width="5.80" height="5.80" fill="none" stroke="#cc3355" stroke-width="1.2"/>
<rect x="205.50" y="509.50" width="5.80" height="5.80" fill="none" stroke="#cc3355" stroke-width="1.2"/>
<rect x="222.10" y="502.50" width="5.80" height="5.80" fill="none" stroke="#cc3355" stroke-width="1.2"/>
<rect x="183.70" y="595.60" width="5.80" height="5.80" fill="none" stroke="#cc3355" stroke-width="1.2"/>
<g clip-path="url(#cL3)">
<line x1="66" y1="610.4" x2="225" y2="511" stroke="#d65c7a" stroke-width="1"/>
<line x1="66.41" y1="628.38" x2="225.33" y2="486.01" stroke="#ee8a3c" stroke-width="1"/>
</g>
<text x="36.80" y="643.30" text-anchor="middle" class="tk">25</text>
<text x="67.39" y="643.30" text-anchor="middle" class="tk">30</text>
<text x="97.97" y="643.30" text-anchor="middle" class="tk">35</text>
<text x="128.56" y="643.30" text-anchor="middle" class="tk">40</text>
<text x="159.14" y="643.30" text-anchor="middle" class="tk">45</text>
<text x="189.73" y="643.30" text-anchor="middle" class="tk">50</text>
<text x="220.31" y="643.30" text-anchor="middle" class="tk">55</text>
<text x="250.90" y="643.30" text-anchor="middle" class="tk">60</text>
<text x="31.20" y="632.00" text-anchor="end" class="tk">30</text>
<text x="31.20" y="604.60" text-anchor="end" class="tk">35</text>
<text x="31.20" y="577.20" text-anchor="end" class="tk">40</text>
<text x="31.20" y="549.80" text-anchor="end" class="tk">45</text>
<text x="31.20" y="522.40" text-anchor="end" class="tk">50</text>
<text x="31.20" y="495.00" text-anchor="end" class="tk">55</text>
<text transform="translate(13.9,559.60) rotate(-90)" text-anchor="middle" class="lb">Predicted value Y(cm)</text>
<rect x="62.60" y="508.30" width="5.80" height="5.80" fill="none" stroke="#cc3355" stroke-width="1.2"/>
<text x="83" y="514.80" class="lg">LSSVM</text>
<line x1="52.4" y1="525" x2="80" y2="525" stroke="#d65c7a" stroke-width="1.1"/>
<text x="83" y="528.80" class="lg">Fit line</text>
<line x1="52.4" y1="539" x2="80" y2="539" stroke="#ee8a3c" stroke-width="1.1"/>
<text x="83" y="542.90" class="lg">Y=T</text>
<text x="206.2" y="606.80" class="rt">r=0.876</text>
<clipPath id="cR3"><rect x="329.5" y="491.2" width="209.30" height="136.80"/></clipPath>
<rect x="329.5" y="491.2" width="209.30" height="136.80" fill="none" stroke="#6b6b6b" stroke-width="1.1"/>
<path d="M371.36 628.0v-2.2M371.36 491.2v2.2M413.22 628.0v-2.2M413.22 491.2v2.2M455.08 628.0v-2.2M455.08 491.2v2.2M496.94 628.0v-2.2M496.94 491.2v2.2M329.5 616.10h2.2M538.8 616.10h-2.2M329.5 586.37h2.2M538.8 586.37h-2.2M329.5 556.63h2.2M538.8 556.63h-2.2M329.5 526.89h2.2M538.8 526.89h-2.2M329.5 497.15h2.2M538.8 497.15h-2.2" stroke="#6b6b6b" stroke-width="1" fill="none"/>
<rect x="363.50" y="572.30" width="5.80" height="5.80" fill="none" stroke="#cc3355" stroke-width="1.2"/>
<rect x="449.10" y="528.70" width="5.80" height="5.80" fill="none" stroke="#cc3355" stroke-width="1.2"/>
<rect x="460.10" y="531.50" width="5.80" height="5.80" fill="none" stroke="#cc3355" stroke-width="1.2"/>
<rect x="478.10" y="518.10" width="5.80" height="5.80" fill="none" stroke="#cc3355" stroke-width="1.2"/>
<rect x="479.70" y="531.50" width="5.80" height="5.80" fill="none" stroke="#cc3355" stroke-width="1.2"/>
<rect x="506.10" y="527.70" width="5.80" height="5.80" fill="none" stroke="#cc3355" stroke-width="1.2"/>
<rect x="526.50" y="493.10" width="5.80" height="5.80" fill="none" stroke="#cc3355" stroke-width="1.2"/>
<g clip-path="url(#cR3)">
<line x1="367" y1="573.2" x2="529" y2="507" stroke="#d65c7a" stroke-width="1"/>
<line x1="367.01" y1="619.20" x2="535.12" y2="499.76" stroke="#ee8a3c" stroke-width="1"/>
</g>
<text x="329.50" y="643.80" text-anchor="middle" class="tk">25</text>
<text x="371.36" y="643.80" text-anchor="middle" class="tk">30</text>
<text x="413.22" y="643.80" text-anchor="middle" class="tk">35</text>
<text x="455.08" y="643.80" text-anchor="middle" class="tk">40</text>
<text x="496.94" y="643.80" text-anchor="middle" class="tk">45</text>
<text x="538.80" y="643.80" text-anchor="middle" class="tk">50</text>
<text x="323.90" y="620.60" text-anchor="end" class="tk">30</text>
<text x="323.90" y="590.87" text-anchor="end" class="tk">35</text>
<text x="323.90" y="561.13" text-anchor="end" class="tk">40</text>
<text x="323.90" y="531.39" text-anchor="end" class="tk">45</text>
<text x="323.90" y="501.65" text-anchor="end" class="tk">50</text>
<text transform="translate(306.8,560.00) rotate(-90)" text-anchor="middle" class="lb" style="font-size:10.5px">Predicted value Y(cm)</text>
<rect x="354.70" y="508.00" width="5.80" height="5.80" fill="none" stroke="#cc3355" stroke-width="1.2"/>
<text x="374.6" y="514.50" class="lg">LSSVM</text>
<line x1="344.6" y1="525" x2="371.4" y2="525" stroke="#d65c7a" stroke-width="1.1"/>
<text x="374.6" y="528.30" class="lg">Fit line</text>
<line x1="344.6" y1="538" x2="371.4" y2="538" stroke="#ee8a3c" stroke-width="1.1"/>
<text x="374.6" y="541.30" class="lg">Y=T</text>
<text x="491.8" y="606.50" class="rt">r=0.921</text>
<clipPath id="cL4"><rect x="36.8" y="649.6" width="214.10" height="136.20"/></clipPath>
<rect x="36.8" y="649.6" width="214.10" height="136.20" fill="none" stroke="#6b6b6b" stroke-width="1.1"/>
<path d="M67.39 785.8v-2.2M67.39 649.6v2.2M97.97 785.8v-2.2M97.97 649.6v2.2M128.56 785.8v-2.2M128.56 649.6v2.2M159.14 785.8v-2.2M159.14 649.6v2.2M189.73 785.8v-2.2M189.73 649.6v2.2M220.31 785.8v-2.2M220.31 649.6v2.2M36.8 758.56h2.2M250.9 758.56h-2.2M36.8 731.32h2.2M250.9 731.32h-2.2M36.8 704.08h2.2M250.9 704.08h-2.2M36.8 676.84h2.2M250.9 676.84h-2.2" stroke="#6b6b6b" stroke-width="1" fill="none"/>
<path d="M66.40 753.70L69.40 758.00L66.40 762.30L63.40 758.00Z" fill="none" stroke="#127a70" stroke-width="1.2"/>
<path d="M72.00 733.30L75.00 737.60L72.00 741.90L69.00 737.60Z" fill="none" stroke="#127a70" stroke-width="1.2"/>
<path d="M75.60 749.30L78.60 753.60L75.60 757.90L72.60 753.60Z" fill="none" stroke="#127a70" stroke-width="1.2"/>
<path d="M78.00 735.70L81.00 740.00L78.00 744.30L75.00 740.00Z" fill="none" stroke="#127a70" stroke-width="1.2"/>
<path d="M80.00 737.70L83.00 742.00L80.00 746.30L77.00 742.00Z" fill="none" stroke="#127a70" stroke-width="1.2"/>
<path d="M82.00 745.70L85.00 750.00L82.00 754.30L79.00 750.00Z" fill="none" stroke="#127a70" stroke-width="1.2"/>
<path d="M78.40 760.10L81.40 764.40L78.40 768.70L75.40 764.40Z" fill="none" stroke="#127a70" stroke-width="1.2"/>
<path d="M97.60 733.10L100.60 737.40L97.60 741.70L94.60 737.40Z" fill="none" stroke="#127a70" stroke-width="1.2"/>
<path d="M102.60 736.10L105.60 740.40L102.60 744.70L99.60 740.40Z" fill="none" stroke="#127a70" stroke-width="1.2"/>
<path d="M97.60 747.30L100.60 751.60L97.60 755.90L94.60 751.60Z" fill="none" stroke="#127a70" stroke-width="1.2"/>
<path d="M121.40 716.70L124.40 721.00L121.40 725.30L118.40 721.00Z" fill="none" stroke="#127a70" stroke-width="1.2"/>
<path d="M123.00 691.30L126.00 695.60L123.00 699.90L120.00 695.60Z" fill="none" stroke="#127a70" stroke-width="1.2"/>
<path d="M125.00 698.70L128.00 703.00L125.00 707.30L122.00 703.00Z" fill="none" stroke="#127a70" stroke-width="1.2"/>
<path d="M129.00 701.30L132.00 705.60L129.00 709.90L126.00 705.60Z" fill="none" stroke="#127a70" stroke-width="1.2"/>
<path d="M127.00 721.70L130.00 726.00L127.00 730.30L124.00 726.00Z" fill="none" stroke="#127a70" stroke-width="1.2"/>
<path d="M129.60 727.30L132.60 731.60L129.60 735.90L126.60 731.60Z" fill="none" stroke="#127a70" stroke-width="1.2"/>
<path d="M132.00 714.70L135.00 719.00L132.00 723.30L129.00 719.00Z" fill="none" stroke="#127a70" stroke-width="1.2"/>
<path d="M126.00 718.70L129.00 723.00L126.00 727.30L123.00 723.00Z" fill="none" stroke="#127a70" stroke-width="1.2"/>
<path d="M153.60 708.10L156.60 712.40L153.60 716.70L150.60 712.40Z" fill="none" stroke="#127a70" stroke-width="1.2"/>
<path d="M154.40 710.10L157.40 714.40L154.40 718.70L151.40 714.40Z" fill="none" stroke="#127a70" stroke-width="1.2"/>
<path d="M159.00 713.70L162.00 718.00L159.00 722.30L156.00 718.00Z" fill="none" stroke="#127a70" stroke-width="1.2"/>
<path d="M157.00 690.10L160.00 694.40L157.00 698.70L154.00 694.40Z" fill="none" stroke="#127a70" stroke-width="1.2"/>
<path d="M164.40 682.70L167.40 687.00L164.40 691.30L161.40 687.00Z" fill="none" stroke="#127a70" stroke-width="1.2"/>
<path d="M177.00 699.30L180.00 703.60L177.00 707.90L174.00 703.60Z" fill="none" stroke="#127a70" stroke-width="1.2"/>
<path d="M180.40 699.30L183.40 703.60L180.40 707.90L177.40 703.60Z" fill="none" stroke="#127a70" stroke-width="1.2"/>
<path d="M186.40 709.30L189.40 713.60L186.40 717.90L183.40 713.60Z" fill="none" stroke="#127a70" stroke-width="1.2"/>
<path d="M193.00 712.30L196.00 716.60L193.00 720.90L190.00 716.60Z" fill="none" stroke="#127a70" stroke-width="1.2"/>
<path d="M199.00 698.70L202.00 703.00L199.00 707.30L196.00 703.00Z" fill="none" stroke="#127a70" stroke-width="1.2"/>
<path d="M208.40 682.30L211.40 686.60L208.40 690.90L205.40 686.60Z" fill="none" stroke="#127a70" stroke-width="1.2"/>
<path d="M225.00 668.10L228.00 672.40L225.00 676.70L222.00 672.40Z" fill="none" stroke="#127a70" stroke-width="1.2"/>
<g clip-path="url(#cL4)">
<line x1="66.4" y1="751" x2="225" y2="677" stroke="#2e8f88" stroke-width="1"/>
<line x1="66.41" y1="786.67" x2="225.33" y2="645.13" stroke="#ee8a3c" stroke-width="1"/>
</g>
<text x="36.80" y="801.60" text-anchor="middle" class="tk">25</text>
<text x="67.39" y="801.60" text-anchor="middle" class="tk">30</text>
<text x="97.97" y="801.60" text-anchor="middle" class="tk">35</text>
<text x="128.56" y="801.60" text-anchor="middle" class="tk">40</text>
<text x="159.14" y="801.60" text-anchor="middle" class="tk">45</text>
<text x="189.73" y="801.60" text-anchor="middle" class="tk">50</text>
<text x="220.31" y="801.60" text-anchor="middle" class="tk">55</text>
<text x="250.90" y="801.60" text-anchor="middle" class="tk">60</text>
<text x="31.20" y="790.30" text-anchor="end" class="tk">30</text>
<text x="31.20" y="763.06" text-anchor="end" class="tk">35</text>
<text x="31.20" y="735.82" text-anchor="end" class="tk">40</text>
<text x="31.20" y="708.58" text-anchor="end" class="tk">45</text>
<text x="31.20" y="681.34" text-anchor="end" class="tk">50</text>
<text x="31.20" y="654.10" text-anchor="end" class="tk">55</text>
<text transform="translate(13.9,718.30) rotate(-90)" text-anchor="middle" class="lb">Predicted value Y(cm)</text>
<path d="M65.50 666.00L68.50 670.30L65.50 674.60L62.50 670.30Z" fill="none" stroke="#127a70" stroke-width="1.2"/>
<text x="83" y="673.90" class="lg">Kuz-Ram</text>
<line x1="52.4" y1="684" x2="80" y2="684" stroke="#2e8f88" stroke-width="1.1"/>
<text x="83" y="687.90" class="lg">Fit line</text>
<line x1="52.4" y1="698" x2="80" y2="698" stroke="#ee8a3c" stroke-width="1.1"/>
<text x="83" y="702.00" class="lg">Y=T</text>
<text x="206.2" y="765.10" class="rt">r=0.751</text>
<clipPath id="cR4"><rect x="329.5" y="651.0" width="209.30" height="136.60"/></clipPath>
<rect x="329.5" y="651.0" width="209.30" height="136.60" fill="none" stroke="#6b6b6b" stroke-width="1.1"/>
<path d="M371.36 787.6v-2.2M371.36 651.0v2.2M413.22 787.6v-2.2M413.22 651.0v2.2M455.08 787.6v-2.2M455.08 651.0v2.2M496.94 787.6v-2.2M496.94 651.0v2.2M329.5 775.18h2.2M538.8 775.18h-2.2M329.5 744.14h2.2M538.8 744.14h-2.2M329.5 713.09h2.2M538.8 713.09h-2.2M329.5 682.05h2.2M538.8 682.05h-2.2" stroke="#6b6b6b" stroke-width="1" fill="none"/>
<path d="M366.40 730.50L369.40 734.80L366.40 739.10L363.40 734.80Z" fill="none" stroke="#127a70" stroke-width="1.2"/>
<path d="M452.00 697.30L455.00 701.60L452.00 705.90L449.00 701.60Z" fill="none" stroke="#127a70" stroke-width="1.2"/>
<path d="M463.00 689.70L466.00 694.00L463.00 698.30L460.00 694.00Z" fill="none" stroke="#127a70" stroke-width="1.2"/>
<path d="M481.00 690.10L484.00 694.40L481.00 698.70L478.00 694.40Z" fill="none" stroke="#127a70" stroke-width="1.2"/>
<path d="M482.60 679.30L485.60 683.60L482.60 687.90L479.60 683.60Z" fill="none" stroke="#127a70" stroke-width="1.2"/>
<path d="M509.00 679.30L512.00 683.60L509.00 687.90L506.00 683.60Z" fill="none" stroke="#127a70" stroke-width="1.2"/>
<path d="M529.60 652.10L532.60 656.40L529.60 660.70L526.60 656.40Z" fill="none" stroke="#127a70" stroke-width="1.2"/>
<g clip-path="url(#cR4)">
<line x1="367" y1="730" x2="529.6" y2="669" stroke="#2e8f88" stroke-width="1"/>
<line x1="367.01" y1="778.41" x2="526.07" y2="660.44" stroke="#ee8a3c" stroke-width="1"/>
</g>
<text x="329.50" y="803.40" text-anchor="middle" class="tk">25</text>
<text x="371.36" y="803.40" text-anchor="middle" class="tk">30</text>
<text x="413.22" y="803.40" text-anchor="middle" class="tk">35</text>
<text x="455.08" y="803.40" text-anchor="middle" class="tk">40</text>
<text x="496.94" y="803.40" text-anchor="middle" class="tk">45</text>
<text x="538.80" y="803.40" text-anchor="middle" class="tk">50</text>
<text x="323.90" y="779.68" text-anchor="end" class="tk">30</text>
<text x="323.90" y="748.64" text-anchor="end" class="tk">35</text>
<text x="323.90" y="717.59" text-anchor="end" class="tk">40</text>
<text x="323.90" y="686.55" text-anchor="end" class="tk">45</text>
<text x="323.90" y="655.50" text-anchor="end" class="tk">50</text>
<text transform="translate(306.8,719.70) rotate(-90)" text-anchor="middle" class="lb" style="font-size:10.5px">Predicted value Y(cm)</text>
<path d="M357.60 666.40L360.60 670.70L357.60 675.00L354.60 670.70Z" fill="none" stroke="#127a70" stroke-width="1.2"/>
<text x="374.6" y="674.30" class="lg">Kuz-Ram</text>
<line x1="344.6" y1="684" x2="371.4" y2="684" stroke="#2e8f88" stroke-width="1.1"/>
<text x="374.6" y="688.10" class="lg">Fit line</text>
<line x1="344.6" y1="698" x2="371.4" y2="698" stroke="#ee8a3c" stroke-width="1.1"/>
<text x="374.6" y="701.10" class="lg">Y=T</text>
<text x="491.8" y="766.10" class="rt">r=0.833</text>
<text x="143.6" y="817.6" text-anchor="middle" class="lb">Measured value T(cm)</text>
<text x="433.7" y="819.5" text-anchor="middle" class="lb" style="font-size:10.8px">Measured value T(cm)</text>
<text x="139.8" y="840.3" text-anchor="middle" class="cap"><tspan font-size="15.5px">(</tspan>a<tspan font-size="15.5px">)</tspan></text>
<text x="429.5" y="840.3" text-anchor="middle" class="cap"><tspan font-size="15.5px">(</tspan>b<tspan font-size="15.5px">)</tspan></text>
</svg>
</body></html>
